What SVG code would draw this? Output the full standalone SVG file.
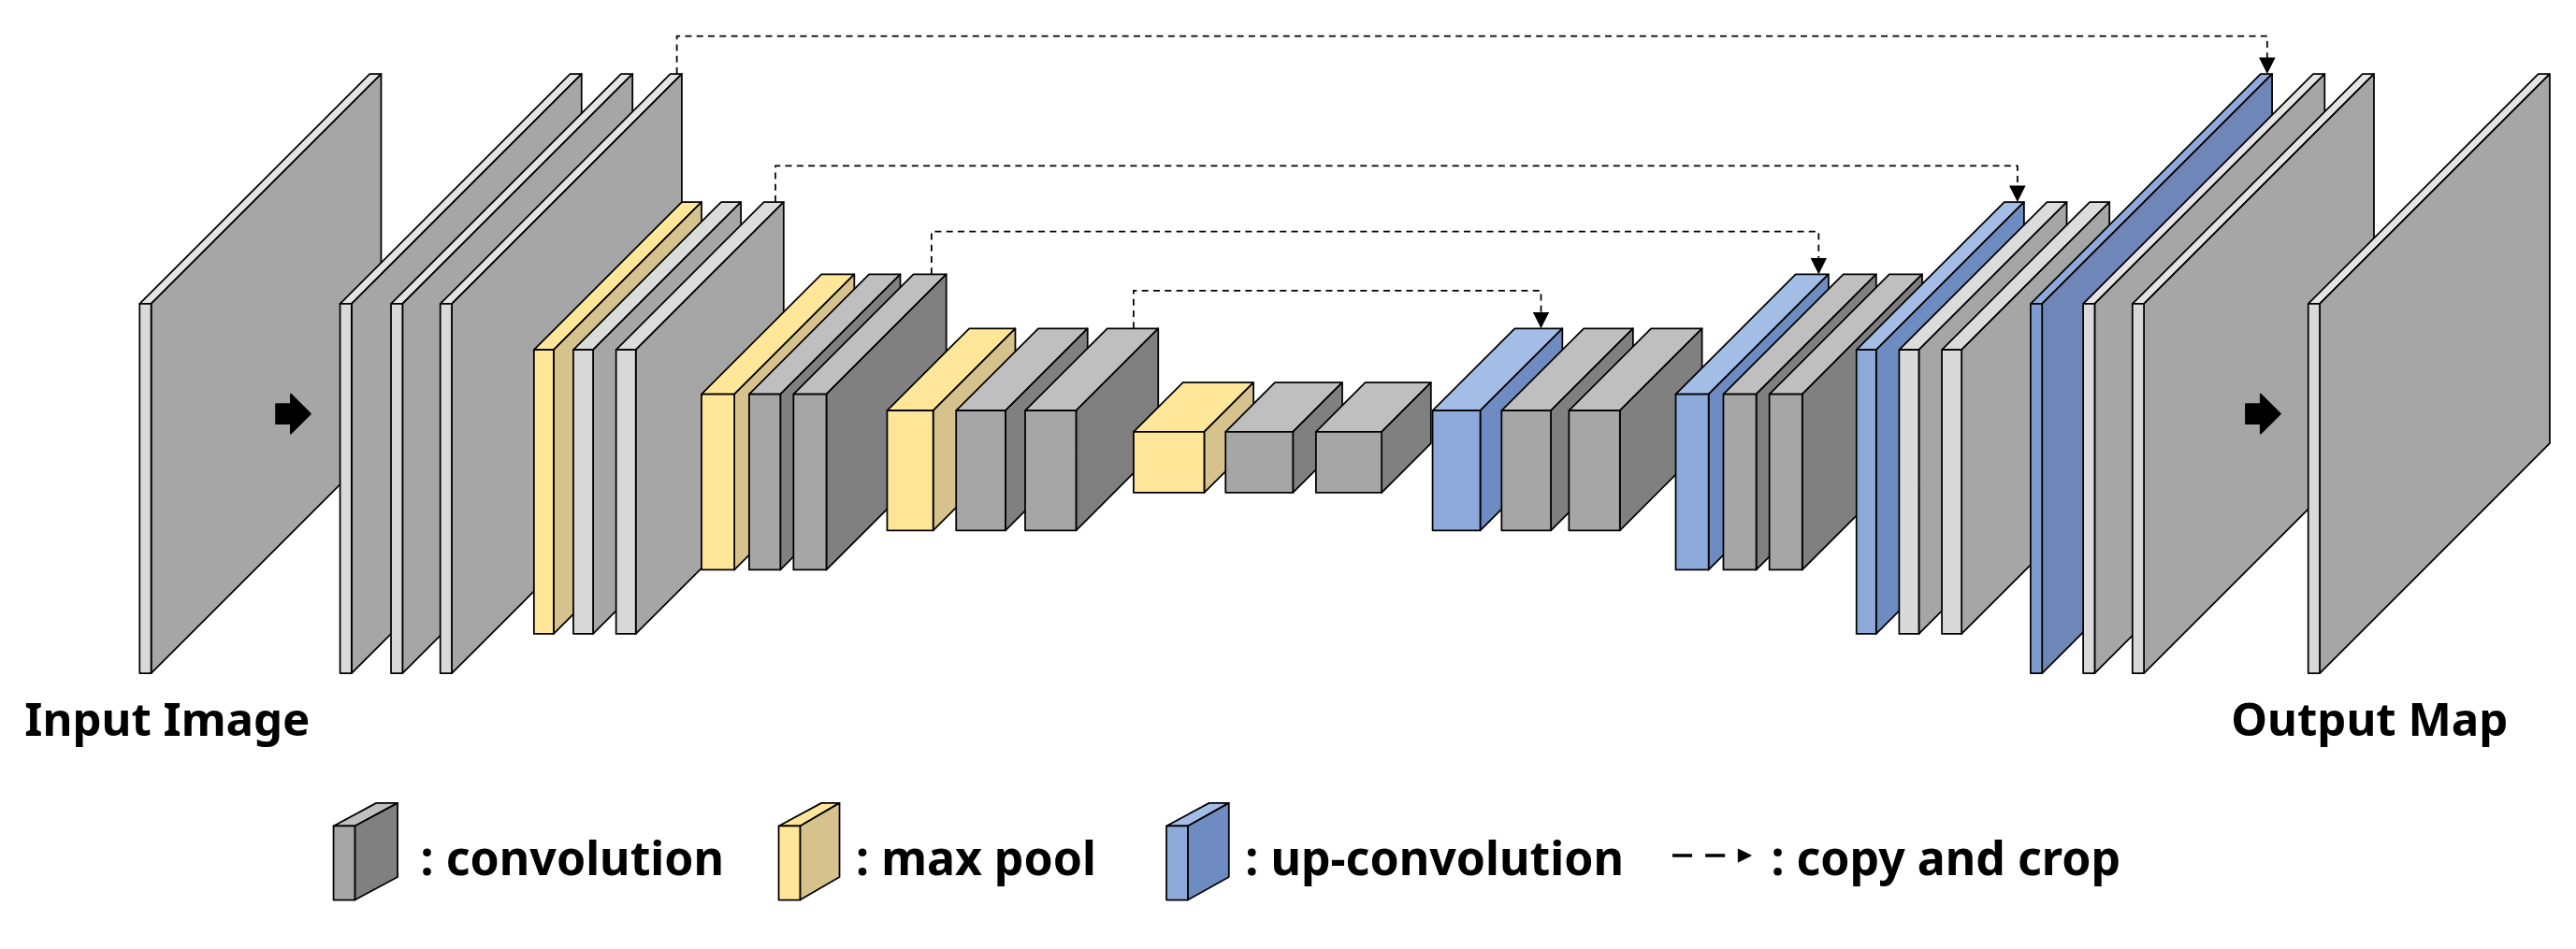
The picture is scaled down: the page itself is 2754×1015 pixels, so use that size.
<svg xmlns="http://www.w3.org/2000/svg" width="2754" height="1015" viewBox="0 0 2754 1015">
<style>
polygon,rect{stroke:#000;stroke-width:1;stroke-linejoin:round}
.pl .f{fill:#d9d9d9}.pl .t{fill:#e4e4e4}.pl .s{fill:#a6a6a6}
.lg .f{fill:#d9d9d9}.lg .t{fill:#dcdcdc}.lg .s{fill:#a6a6a6}
.cv .f{fill:#a6a6a6}.cv .t{fill:#bfbfbf}.cv .s{fill:#808080}
.mp .f{fill:#ffe699}.mp .t{fill:#ffe699}.mp .s{fill:#d6c28c}
.up .f{fill:#8eaadb}.up .t{fill:#a4bde6}.up .s{fill:#6e8cc2}
.ud .f{fill:#7f9bd0}.ud .t{fill:#8eaadb}.ud .s{fill:#6f86b8}
.dash{fill:none;stroke:#000;stroke-width:1;stroke-dasharray:4 3}
text{font-family:"Noto Sans","Liberation Sans",sans-serif;font-weight:700;fill:#000}
.lab{font-size:28px}.leg{font-size:28.5px}
</style>
<defs>
<marker id="ah" markerWidth="10" markerHeight="10" refX="5" refY="9" orient="0" markerUnits="userSpaceOnUse" viewBox="0 0 10 10"><path d="M0,0 L10,0 L5,10 z" fill="#000"/></marker>
</defs>
<rect x="0" y="0" width="2754" height="1015" fill="#fff" style="stroke:none"/>
<g transform="scale(1.7564)">
<g id="input" class="pl"><polygon class="t" points="85,185 225,45 232,45 92,185"/><polygon class="s" points="92,185 232,45 232,270 92,410"/><rect class="f" x="85" y="185" width="7" height="225"/></g>
<g id="c1a" class="pl"><polygon class="t" points="207,185 347,45 354,45 214,185"/><polygon class="s" points="214,185 354,45 354,270 214,410"/><rect class="f" x="207" y="185" width="7" height="225"/></g>
<g id="c1b" class="pl"><polygon class="t" points="238,185 378,45 385,45 245,185"/><polygon class="s" points="245,185 385,45 385,270 245,410"/><rect class="f" x="238" y="185" width="7" height="225"/></g>
<g id="c1c" class="pl"><polygon class="t" points="268,185 408,45 415,45 275,185"/><polygon class="s" points="275,185 415,45 415,270 275,410"/><rect class="f" x="268" y="185" width="7" height="225"/></g>
<g id="p1" class="mp"><polygon class="t" points="325,213 415,123 427,123 337,213"/><polygon class="s" points="337,213 427,123 427,296 337,386"/><rect class="f" x="325" y="213" width="12" height="173"/></g>
<g id="c2a" class="lg"><polygon class="t" points="349,213 439,123 451,123 361,213"/><polygon class="s" points="361,213 451,123 451,296 361,386"/><rect class="f" x="349" y="213" width="12" height="173"/></g>
<g id="c2b" class="lg"><polygon class="t" points="375,213 465,123 477,123 387,213"/><polygon class="s" points="387,213 477,123 477,296 387,386"/><rect class="f" x="375" y="213" width="12" height="173"/></g>
<g id="p2" class="mp"><polygon class="t" points="427,240 500,167 520,167 447,240"/><polygon class="s" points="447,240 520,167 520,274 447,347"/><rect class="f" x="427" y="240" width="20" height="107"/></g>
<g id="c3a" class="cv"><polygon class="t" points="456,240 529,167 548,167 475,240"/><polygon class="s" points="475,240 548,167 548,274 475,347"/><rect class="f" x="456" y="240" width="19" height="107"/></g>
<g id="c3b" class="cv"><polygon class="t" points="483,240 556,167 576,167 503,240"/><polygon class="s" points="503,240 576,167 576,274 503,347"/><rect class="f" x="483" y="240" width="20" height="107"/></g>
<g id="p3" class="mp"><polygon class="t" points="540,250 590,200 618,200 568,250"/><polygon class="s" points="568,250 618,200 618,273 568,323"/><rect class="f" x="540" y="250" width="28" height="73"/></g>
<g id="c4a" class="cv"><polygon class="t" points="582,250 632,200 662,200 612,250"/><polygon class="s" points="612,250 662,200 662,273 612,323"/><rect class="f" x="582" y="250" width="30" height="73"/></g>
<g id="c4b" class="cv"><polygon class="t" points="624,250 674,200 705,200 655,250"/><polygon class="s" points="655,250 705,200 705,273 655,323"/><rect class="f" x="624" y="250" width="31" height="73"/></g>
<g id="p4" class="mp"><polygon class="t" points="690,263 720,233 763,233 733,263"/><polygon class="s" points="733,263 763,233 763,270 733,300"/><rect class="f" x="690" y="263" width="43" height="37"/></g>
<g id="c5a" class="cv"><polygon class="t" points="746,263 776,233 817,233 787,263"/><polygon class="s" points="787,263 817,233 817,270 787,300"/><rect class="f" x="746" y="263" width="41" height="37"/></g>
<g id="c5b" class="cv"><polygon class="t" points="801,263 831,233 871,233 841,263"/><polygon class="s" points="841,263 871,233 871,270 841,300"/><rect class="f" x="801" y="263" width="40" height="37"/></g>
<g id="u4" class="up"><polygon class="t" points="872,250 922,200 951,200 901,250"/><polygon class="s" points="901,250 951,200 951,273 901,323"/><rect class="f" x="872" y="250" width="29" height="73"/></g>
<g id="c6a" class="cv"><polygon class="t" points="914,250 964,200 994,200 944,250"/><polygon class="s" points="944,250 994,200 994,273 944,323"/><rect class="f" x="914" y="250" width="30" height="73"/></g>
<g id="c6b" class="cv"><polygon class="t" points="955,250 1005,200 1036,200 986,250"/><polygon class="s" points="986,250 1036,200 1036,273 986,323"/><rect class="f" x="955" y="250" width="31" height="73"/></g>
<g id="u3" class="up"><polygon class="t" points="1020,240 1093,167 1113,167 1040,240"/><polygon class="s" points="1040,240 1113,167 1113,274 1040,347"/><rect class="f" x="1020" y="240" width="20" height="107"/></g>
<g id="c7a" class="cv"><polygon class="t" points="1049,240 1122,167 1142,167 1069,240"/><polygon class="s" points="1069,240 1142,167 1142,274 1069,347"/><rect class="f" x="1049" y="240" width="20" height="107"/></g>
<g id="c7b" class="cv"><polygon class="t" points="1077,240 1150,167 1170,167 1097,240"/><polygon class="s" points="1097,240 1170,167 1170,274 1097,347"/><rect class="f" x="1077" y="240" width="20" height="107"/></g>
<g id="u2" class="up"><polygon class="t" points="1130,213 1220,123 1232,123 1142,213"/><polygon class="s" points="1142,213 1232,123 1232,296 1142,386"/><rect class="f" x="1130" y="213" width="12" height="173"/></g>
<g id="c8a" class="lg"><polygon class="t" points="1156,213 1246,123 1258,123 1168,213"/><polygon class="s" points="1168,213 1258,123 1258,296 1168,386"/><rect class="f" x="1156" y="213" width="12" height="173"/></g>
<g id="c8b" class="lg"><polygon class="t" points="1182,213 1272,123 1284,123 1194,213"/><polygon class="s" points="1194,213 1284,123 1284,296 1194,386"/><rect class="f" x="1182" y="213" width="12" height="173"/></g>
<g id="u1" class="ud"><polygon class="t" points="1236,185 1376,45 1383,45 1243,185"/><polygon class="s" points="1243,185 1383,45 1383,270 1243,410"/><rect class="f" x="1236" y="185" width="7" height="225"/></g>
<g id="c9a" class="pl"><polygon class="t" points="1268,185 1408,45 1415,45 1275,185"/><polygon class="s" points="1275,185 1415,45 1415,270 1275,410"/><rect class="f" x="1268" y="185" width="7" height="225"/></g>
<g id="c9b" class="pl"><polygon class="t" points="1298,185 1438,45 1445,45 1305,185"/><polygon class="s" points="1305,185 1445,45 1445,270 1305,410"/><rect class="f" x="1298" y="185" width="7" height="225"/></g>
<g id="output" class="pl"><polygon class="t" points="1405,185 1545,45 1552,45 1412,185"/><polygon class="s" points="1412,185 1552,45 1552,270 1412,410"/><rect class="f" x="1405" y="185" width="7" height="225"/></g>
<g id="connectors">
<path class="dash" d="M412,45 V22 H1380 V44" marker-end="url(#ah)"/>
<path class="dash" d="M472,123 V101 H1228 V122" marker-end="url(#ah)"/>
<path class="dash" d="M567,167 V141 H1107 V166" marker-end="url(#ah)"/>
<path class="dash" d="M690,200 V177 H938 V199" marker-end="url(#ah)"/>
<polygon points="168,246 177,246 177,240 189,252 177,264 177,258 168,258" style="fill:#000"/>
<polygon points="1367,246 1376,246 1376,240 1388,252 1376,264 1376,258 1367,258" style="fill:#000"/>
</g>
<g id="labels">
<text class="lab" x="15" y="448">Input Image</text>
<text class="lab" x="1358" y="448">Output Map</text>
</g>
<g id="legend">
<g class="cv"><polygon class="t" points="203,503 229,489 242,489 216,503"/><polygon class="s" points="216,503 242,489 242,534 216,548"/><rect class="f" x="203" y="503" width="13" height="45"/></g>
<text class="leg" x="256" y="533">: convolution</text>
<g class="mp"><polygon class="t" points="474,503 500,489 511,489 487,503"/><polygon class="s" points="487,503 511,489 511,534 487,548"/><rect class="f" x="474" y="503" width="13" height="45"/></g>
<text class="leg" x="521" y="533">: max pool</text>
<g class="up"><polygon class="t" points="710,503 736,489 748,489 723,503"/><polygon class="s" points="723,503 748,489 748,534 723,548"/><rect class="f" x="710" y="503" width="13" height="45"/></g>
<text class="leg" x="758" y="533">: up-convolution</text>
<path d="M1018,521 H1030 M1038,521 H1050" stroke="#000" stroke-width="2"/>
<polygon points="1058,517 1066,521 1058,525" style="fill:#000;stroke-width:0.5"/>
<text class="leg" x="1078" y="533">: copy and crop</text>
</g>
</g>
</svg>
